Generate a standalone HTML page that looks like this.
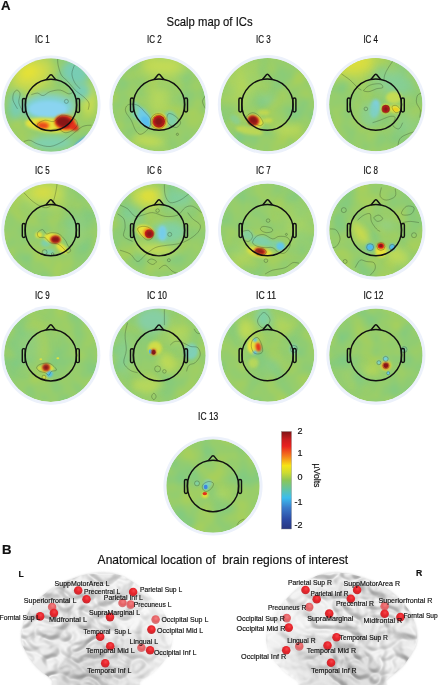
<!DOCTYPE html>
<html><head><meta charset="utf-8"><title>Scalp map of ICs</title>
<style>
html,body{margin:0;padding:0;background:#fff}
body{width:439px;height:685px;overflow:hidden}
svg{display:block}
text{font-family:"Liberation Sans",sans-serif;fill:#111;stroke:#111;stroke-width:0.18px}
</style></head><body>
<svg width="439" height="685" viewBox="0 0 439 685">
<defs>
<clipPath id="clipmap"><circle r="46.7"/></clipPath>
<filter id="b1" x="-50%" y="-50%" width="200%" height="200%"><feGaussianBlur stdDeviation="0.8"/></filter>
<filter id="b2" x="-50%" y="-50%" width="200%" height="200%"><feGaussianBlur stdDeviation="1.8"/></filter>
<filter id="b3" x="-50%" y="-50%" width="200%" height="200%"><feGaussianBlur stdDeviation="3.5"/></filter>
<filter id="b4" x="-60%" y="-60%" width="220%" height="220%"><feGaussianBlur stdDeviation="6"/></filter>
<filter id="b5" x="-80%" y="-80%" width="260%" height="260%"><feGaussianBlur stdDeviation="9"/></filter>
<filter id="mot1" x="-5%" y="-5%" width="110%" height="110%" color-interpolation-filters="sRGB"><feTurbulence type="fractalNoise" baseFrequency="0.045" numOctaves="2" seed="5" result="n"/><feColorMatrix in="n" type="matrix" values="0.22 0 0 0 0.478  0.03 0 0 0 0.789  -0.22 0 0 0 0.533  0 0 0 0 1" result="c"/><feComposite in="c" in2="SourceGraphic" operator="in"/></filter><filter id="mot2" x="-5%" y="-5%" width="110%" height="110%" color-interpolation-filters="sRGB"><feTurbulence type="fractalNoise" baseFrequency="0.045" numOctaves="2" seed="8" result="n"/><feColorMatrix in="n" type="matrix" values="0.22 0 0 0 0.478  0.03 0 0 0 0.789  -0.22 0 0 0 0.533  0 0 0 0 1" result="c"/><feComposite in="c" in2="SourceGraphic" operator="in"/></filter><filter id="mot3" x="-5%" y="-5%" width="110%" height="110%" color-interpolation-filters="sRGB"><feTurbulence type="fractalNoise" baseFrequency="0.045" numOctaves="2" seed="11" result="n"/><feColorMatrix in="n" type="matrix" values="0.22 0 0 0 0.478  0.03 0 0 0 0.789  -0.22 0 0 0 0.533  0 0 0 0 1" result="c"/><feComposite in="c" in2="SourceGraphic" operator="in"/></filter><filter id="mot4" x="-5%" y="-5%" width="110%" height="110%" color-interpolation-filters="sRGB"><feTurbulence type="fractalNoise" baseFrequency="0.045" numOctaves="2" seed="14" result="n"/><feColorMatrix in="n" type="matrix" values="0.22 0 0 0 0.478  0.03 0 0 0 0.789  -0.22 0 0 0 0.533  0 0 0 0 1" result="c"/><feComposite in="c" in2="SourceGraphic" operator="in"/></filter><filter id="mot5" x="-5%" y="-5%" width="110%" height="110%" color-interpolation-filters="sRGB"><feTurbulence type="fractalNoise" baseFrequency="0.045" numOctaves="2" seed="17" result="n"/><feColorMatrix in="n" type="matrix" values="0.22 0 0 0 0.478  0.03 0 0 0 0.789  -0.22 0 0 0 0.533  0 0 0 0 1" result="c"/><feComposite in="c" in2="SourceGraphic" operator="in"/></filter><filter id="mot6" x="-5%" y="-5%" width="110%" height="110%" color-interpolation-filters="sRGB"><feTurbulence type="fractalNoise" baseFrequency="0.045" numOctaves="2" seed="20" result="n"/><feColorMatrix in="n" type="matrix" values="0.22 0 0 0 0.478  0.03 0 0 0 0.789  -0.22 0 0 0 0.533  0 0 0 0 1" result="c"/><feComposite in="c" in2="SourceGraphic" operator="in"/></filter><filter id="mot7" x="-5%" y="-5%" width="110%" height="110%" color-interpolation-filters="sRGB"><feTurbulence type="fractalNoise" baseFrequency="0.045" numOctaves="2" seed="23" result="n"/><feColorMatrix in="n" type="matrix" values="0.22 0 0 0 0.478  0.03 0 0 0 0.789  -0.22 0 0 0 0.533  0 0 0 0 1" result="c"/><feComposite in="c" in2="SourceGraphic" operator="in"/></filter><filter id="mot8" x="-5%" y="-5%" width="110%" height="110%" color-interpolation-filters="sRGB"><feTurbulence type="fractalNoise" baseFrequency="0.045" numOctaves="2" seed="26" result="n"/><feColorMatrix in="n" type="matrix" values="0.22 0 0 0 0.478  0.03 0 0 0 0.789  -0.22 0 0 0 0.533  0 0 0 0 1" result="c"/><feComposite in="c" in2="SourceGraphic" operator="in"/></filter><filter id="mot9" x="-5%" y="-5%" width="110%" height="110%" color-interpolation-filters="sRGB"><feTurbulence type="fractalNoise" baseFrequency="0.045" numOctaves="2" seed="29" result="n"/><feColorMatrix in="n" type="matrix" values="0.22 0 0 0 0.478  0.03 0 0 0 0.789  -0.22 0 0 0 0.533  0 0 0 0 1" result="c"/><feComposite in="c" in2="SourceGraphic" operator="in"/></filter><filter id="mot10" x="-5%" y="-5%" width="110%" height="110%" color-interpolation-filters="sRGB"><feTurbulence type="fractalNoise" baseFrequency="0.045" numOctaves="2" seed="32" result="n"/><feColorMatrix in="n" type="matrix" values="0.22 0 0 0 0.478  0.03 0 0 0 0.789  -0.22 0 0 0 0.533  0 0 0 0 1" result="c"/><feComposite in="c" in2="SourceGraphic" operator="in"/></filter><filter id="mot11" x="-5%" y="-5%" width="110%" height="110%" color-interpolation-filters="sRGB"><feTurbulence type="fractalNoise" baseFrequency="0.045" numOctaves="2" seed="35" result="n"/><feColorMatrix in="n" type="matrix" values="0.22 0 0 0 0.478  0.03 0 0 0 0.789  -0.22 0 0 0 0.533  0 0 0 0 1" result="c"/><feComposite in="c" in2="SourceGraphic" operator="in"/></filter><filter id="mot12" x="-5%" y="-5%" width="110%" height="110%" color-interpolation-filters="sRGB"><feTurbulence type="fractalNoise" baseFrequency="0.045" numOctaves="2" seed="38" result="n"/><feColorMatrix in="n" type="matrix" values="0.22 0 0 0 0.478  0.03 0 0 0 0.789  -0.22 0 0 0 0.533  0 0 0 0 1" result="c"/><feComposite in="c" in2="SourceGraphic" operator="in"/></filter><filter id="mot13" x="-5%" y="-5%" width="110%" height="110%" color-interpolation-filters="sRGB"><feTurbulence type="fractalNoise" baseFrequency="0.045" numOctaves="2" seed="41" result="n"/><feColorMatrix in="n" type="matrix" values="0.22 0 0 0 0.478  0.03 0 0 0 0.789  -0.22 0 0 0 0.533  0 0 0 0 1" result="c"/><feComposite in="c" in2="SourceGraphic" operator="in"/></filter>
<linearGradient id="jet" x1="0" y1="0" x2="0" y2="1">
<stop offset="0" stop-color="#7d1416"/><stop offset="0.08" stop-color="#c81d1f"/><stop offset="0.15" stop-color="#e8211f"/>
<stop offset="0.25" stop-color="#f47a1c"/><stop offset="0.35" stop-color="#f6e415"/><stop offset="0.42" stop-color="#cfdc30"/>
<stop offset="0.5" stop-color="#8cc657"/><stop offset="0.6" stop-color="#5fc3a9"/><stop offset="0.68" stop-color="#3bbdee"/>
<stop offset="0.78" stop-color="#3a7ccb"/><stop offset="0.9" stop-color="#2c4aa4"/><stop offset="1" stop-color="#28357f"/>
</linearGradient>
<radialGradient id="ball" cx="0.56" cy="0.36" r="0.72">
<stop offset="0" stop-color="#f5444a"/><stop offset="0.45" stop-color="#e8242b"/><stop offset="0.8" stop-color="#cc2a30"/><stop offset="1" stop-color="#b25257"/>
</radialGradient>
<radialGradient id="ballp" cx="0.56" cy="0.36" r="0.72">
<stop offset="0" stop-color="#f27e80"/><stop offset="0.5" stop-color="#e46064"/><stop offset="1" stop-color="#cf8486"/>
</radialGradient>
</defs>
<rect width="439" height="685" fill="#fff"/>

<text x="1" y="10.3" font-size="13.2" font-weight="bold">A</text>
<text x="166.6" y="25.5" font-size="13" textLength="86" lengthAdjust="spacingAndGlyphs">Scalp map of ICs</text>
<text x="35" y="43" font-size="10.2" textLength="14.6" lengthAdjust="spacingAndGlyphs">IC 1</text>
<text x="147" y="43" font-size="10.2" textLength="14.6" lengthAdjust="spacingAndGlyphs">IC 2</text>
<text x="256" y="43" font-size="10.2" textLength="14.6" lengthAdjust="spacingAndGlyphs">IC 3</text>
<text x="363.4" y="43" font-size="10.2" textLength="14.6" lengthAdjust="spacingAndGlyphs">IC 4</text>
<text x="35" y="174" font-size="10.2" textLength="14.6" lengthAdjust="spacingAndGlyphs">IC 5</text>
<text x="147" y="174" font-size="10.2" textLength="14.6" lengthAdjust="spacingAndGlyphs">IC 6</text>
<text x="256" y="174" font-size="10.2" textLength="14.6" lengthAdjust="spacingAndGlyphs">IC 7</text>
<text x="363.4" y="174" font-size="10.2" textLength="14.6" lengthAdjust="spacingAndGlyphs">IC 8</text>
<text x="35" y="299" font-size="10.2" textLength="14.6" lengthAdjust="spacingAndGlyphs">IC 9</text>
<text x="147" y="299" font-size="10.2" textLength="20" lengthAdjust="spacingAndGlyphs">IC 10</text>
<text x="256" y="299" font-size="10.2" textLength="20" lengthAdjust="spacingAndGlyphs">IC 11</text>
<text x="363.4" y="299" font-size="10.2" textLength="20" lengthAdjust="spacingAndGlyphs">IC 12</text>
<text x="198.1" y="420" font-size="10.2" textLength="20.2" lengthAdjust="spacingAndGlyphs">IC 13</text>
<g transform="translate(51 105)"><circle r="49.6" fill="#ecf1fb"/><g clip-path="url(#clipmap)"><circle r="46.7" fill="#96cd6c" filter="url(#mot1)"/><ellipse cx="-19" cy="-31" rx="22" ry="16" fill="#d3dc48" transform="rotate(-25 -19 -31)" filter="url(#b4)"/><ellipse cx="-22" cy="-33" rx="9" ry="6" fill="#e6e234" transform="rotate(-25 -22 -33)" filter="url(#b3)"/><ellipse cx="38" cy="-6" rx="8" ry="16" fill="#c6dc52" filter="url(#b3)"/><ellipse cx="24" cy="-32" rx="14" ry="12" fill="#78cdb4" transform="rotate(30 24 -32)" filter="url(#b3)"/><ellipse cx="30" cy="-14" rx="10" ry="9" fill="#78cdb4" filter="url(#b3)"/><ellipse cx="-35" cy="0" rx="7" ry="14" fill="#78cdb4" filter="url(#b3)"/><ellipse cx="-2" cy="2" rx="26" ry="13" fill="#7fd2d8" filter="url(#b3)"/><ellipse cx="-3" cy="4" rx="19" ry="8" fill="#8ad4f0" filter="url(#b2)"/><ellipse cx="0" cy="38" rx="22" ry="7" fill="#7fd0b0" filter="url(#b3)"/><ellipse cx="30" cy="37" rx="9" ry="2.2" fill="#5aa8ea" transform="rotate(-38 30 37)" filter="url(#b1)"/><ellipse cx="-2" cy="20" rx="24" ry="7" fill="#e6e23a" transform="rotate(5 -2 20)" filter="url(#b2)"/><ellipse cx="-8" cy="20" rx="7" ry="4" fill="#f59a1c" transform="rotate(5 -8 20)" filter="url(#b1)"/><ellipse cx="-8" cy="20.5" rx="5" ry="2.6" fill="#ea4a1c" transform="rotate(5 -8 20.5)" filter="url(#b1)"/><ellipse cx="14" cy="17.5" rx="11" ry="8" fill="#f08a1c" transform="rotate(10 14 17.5)" filter="url(#b1)"/><ellipse cx="14" cy="17.5" rx="9.5" ry="6.5" fill="#d8201c" transform="rotate(10 14 17.5)" filter="url(#b1)"/><ellipse cx="12.5" cy="17" rx="7.5" ry="5" fill="#8a1418" transform="rotate(10 12.5 17)" filter="url(#b1)"/><ellipse cx="23" cy="22" rx="5" ry="3.5" fill="#e3301c" transform="rotate(30 23 22)" filter="url(#b1)"/><path d="M6.6 -46.2 C6.7 -45.2 6.5 -42.7 7.1 -39.9 C7.8 -37.2 8.8 -32.6 10.4 -29.9 C12.0 -27.2 14.4 -26.2 16.7 -23.6 C19.0 -21.1 21.5 -17.5 24.2 -14.9 C26.9 -12.2 30.7 -10.0 33.0 -7.9 C35.3 -5.7 37.3 -3.9 38.0 -1.8 C38.7 0.2 37.3 3.6 37.2 4.7" fill="none" stroke="#27331f" stroke-width="0.35" opacity="0.85"/><path d="M23.4 -39.9 C23.0 -38.5 20.9 -34.1 20.9 -31.2 C21.0 -28.2 22.3 -24.9 23.7 -22.4 C25.1 -19.9 28.3 -17.2 29.2 -16.1" fill="none" stroke="#27331f" stroke-width="0.35" opacity="0.85"/><path d="M-23.4 10.2 C-24.2 9.6 -26.5 8.5 -27.9 6.4 C-29.4 4.3 -31.7 0.6 -32.2 -2.3 C-32.7 -5.3 -30.7 -9.0 -30.9 -11.1 C-31.2 -13.2 -32.9 -14.7 -34.0 -14.9 C-35.0 -15.0 -36.5 -13.5 -37.2 -11.9 C-37.9 -10.2 -38.6 -7.5 -38.0 -4.8 C-37.3 -2.2 -34.2 2.5 -33.5 3.9" fill="none" stroke="#27331f" stroke-width="0.35" opacity="0.85"/><path d="M-19.7 -10.4 C-18.6 -10.6 -15.4 -12.0 -13.4 -11.9 C-11.4 -11.7 -10.0 -9.1 -7.9 -9.4 C-5.8 -9.6 -3.7 -12.5 -0.9 -13.4 C2.0 -14.3 6.0 -15.3 9.2 -14.9 C12.3 -14.5 15.8 -11.4 17.9 -11.1 C20.1 -10.9 21.5 -13.0 22.2 -13.4" fill="none" stroke="#27331f" stroke-width="0.35" opacity="0.85"/><path d="M-27.2 36.5 C-26.1 36.3 -23.2 34.8 -20.9 35.3 C-18.6 35.7 -16.7 38.0 -13.4 39.0 C-10.1 40.1 -5.1 41.9 -0.9 41.5 C3.3 41.1 7.9 38.6 11.7 36.5 C15.4 34.4 18.3 31.5 21.7 29.0 C25.0 26.5 28.6 22.9 31.7 21.5 C34.8 20.0 39.0 20.4 40.5 20.2" fill="none" stroke="#27331f" stroke-width="0.35" opacity="0.85"/><circle cx="15.4" cy="-3.6" r="2.0" fill="none" stroke="#27331f" stroke-width="0.35" opacity="0.85"/><path d="M-13.4 19.0 C-12.6 17.5 -8.6 15.6 -5.9 15.2 C-3.2 14.8 0.2 17.3 2.9 16.5 C5.6 15.6 7.3 10.8 10.4 10.2 C13.5 9.6 19.0 11.2 21.7 12.7 C24.4 14.2 26.7 16.9 26.7 19.0 C26.7 21.0 23.8 23.8 21.7 25.2 C19.6 26.7 16.7 27.9 14.2 27.7 C11.7 27.5 9.6 24.4 6.6 24.0 C3.7 23.6 -0.5 25.2 -3.4 25.2 C-6.3 25.2 -9.2 25.0 -10.9 24.0 C-12.6 22.9 -14.2 20.4 -13.4 19.0Z" fill="none" stroke="#27331f" stroke-width="0.35" opacity="0.85"/></g><g fill="none" stroke="#111" stroke-width="1.45" stroke-linejoin="round"><rect x="-28.5" y="-6.6" width="3" height="14" rx="1.4"/><rect x="25.5" y="-6.6" width="3" height="14" rx="1.4"/><path d="M-4.9 -25.1 L-1 -29.9 Q0 -30.8 1 -29.9 L4.9 -25.1"/><circle r="25.7"/></g></g>
<g transform="translate(159 104.6)"><circle r="49.6" fill="#ecf1fb"/><g clip-path="url(#clipmap)"><circle r="46.7" fill="#96cd6c" filter="url(#mot2)"/><ellipse cx="5" cy="-38" rx="22" ry="10" fill="#c6dc52" filter="url(#b4)"/><ellipse cx="0" cy="-5" rx="10" ry="14" fill="#c6dc52" filter="url(#b4)" opacity="0.7"/><ellipse cx="-16" cy="12" rx="6" ry="12" fill="#6ecbe6" transform="rotate(-40 -16 12)" filter="url(#b2)"/><ellipse cx="-13" cy="17" rx="4" ry="6" fill="#58bff0" transform="rotate(-40 -13 17)" filter="url(#b1)"/><ellipse cx="12" cy="14" rx="6" ry="8" fill="#7fd0a8" transform="rotate(-20 12 14)" filter="url(#b2)"/><ellipse cx="-24" cy="5" rx="4" ry="8" fill="#7fd0a8" filter="url(#b2)"/><ellipse cx="0" cy="17" rx="8.5" ry="8.5" fill="#e6e23a" filter="url(#b1)"/><ellipse cx="0" cy="17" rx="7" ry="7" fill="#f08a1c" filter="url(#b1)"/><ellipse cx="0" cy="17" rx="6" ry="6" fill="#d8201c"/><ellipse cx="-0.3" cy="17" rx="4.6" ry="4.6" fill="#8a1418" filter="url(#b1)"/><ellipse cx="-10" cy="36" rx="16" ry="6" fill="#c6dc52" transform="rotate(10 -10 36)" filter="url(#b3)" opacity="0.8"/><path d="M-33.0 2.4 C-32.3 1.0 -31.0 -0.1 -28.9 -0.4 C-26.9 -0.6 -23.2 -0.4 -20.7 1.0 C-18.2 2.4 -15.9 5.6 -13.9 7.8 C-11.8 10.1 -9.1 12.2 -8.4 14.7 C-7.7 17.2 -8.2 20.4 -9.8 22.9 C-11.4 25.4 -15.7 29.3 -18.0 29.7 C-20.3 30.2 -21.9 27.9 -23.5 25.6 C-25.1 23.3 -26.0 19.0 -27.6 16.0 C-29.2 13.1 -32.1 10.1 -33.0 7.8 C-33.9 5.6 -33.7 3.7 -33.0 2.4Z" fill="none" stroke="#27331f" stroke-width="0.35" opacity="0.85"/><circle cx="-0.8" cy="16.6" r="7.7" fill="none" stroke="#27331f" stroke-width="0.35" opacity="0.85"/><circle cx="-0.8" cy="16.6" r="6.0" fill="none" stroke="#27331f" stroke-width="0.35" opacity="0.85"/><path d="M9.3 9.2 C10.5 8.5 12.8 9.2 14.8 10.6 C16.9 11.9 21.2 15.4 21.6 17.4 C22.1 19.5 19.4 22.4 17.5 22.9 C15.7 23.3 12.3 21.5 10.7 20.1 C9.1 18.8 8.2 16.5 8.0 14.7 C7.7 12.9 8.2 9.9 9.3 9.2Z" fill="none" stroke="#27331f" stroke-width="0.35" opacity="0.85"/><path d="M46.2 -8.6 C45.8 -7.6 43.5 -5.1 43.5 -3.1 C43.5 -1.0 45.8 2.6 46.2 3.7" fill="none" stroke="#27331f" stroke-width="0.35" opacity="0.85"/><circle cx="18.4" cy="29.7" r="1.1" fill="none" stroke="#27331f" stroke-width="0.35" opacity="0.85"/></g><g fill="none" stroke="#111" stroke-width="1.45" stroke-linejoin="round"><rect x="-28.5" y="-6.6" width="3" height="14" rx="1.4"/><rect x="25.5" y="-6.6" width="3" height="14" rx="1.4"/><path d="M-4.9 -25.1 L-1 -29.9 Q0 -30.8 1 -29.9 L4.9 -25.1"/><circle r="25.7"/></g></g>
<g transform="translate(267.4 104.6)"><circle r="49.6" fill="#ecf1fb"/><g clip-path="url(#clipmap)"><circle r="46.7" fill="#96cd6c" filter="url(#mot3)"/><ellipse cx="-25" cy="-20" rx="14" ry="20" fill="#c6dc52" filter="url(#b5)" opacity="0.6"/><ellipse cx="-18" cy="26" rx="14" ry="4" fill="#e6e23a" transform="rotate(10 -18 26)" filter="url(#b2)" opacity="0.5"/><ellipse cx="-32" cy="15" rx="6" ry="4" fill="#7fd0a8" transform="rotate(40 -32 15)" filter="url(#b2)" opacity="0.6"/><ellipse cx="-4" cy="8" rx="6" ry="3" fill="#e6e23a" filter="url(#b2)" opacity="0.5"/><ellipse cx="0" cy="16" rx="5" ry="2.5" fill="#e6e23a" filter="url(#b2)" opacity="0.6"/><ellipse cx="20" cy="25" rx="14" ry="5" fill="#c6dc52" filter="url(#b3)" opacity="0.7"/><ellipse cx="-12" cy="16.5" rx="8.5" ry="6" fill="#e6e23a" transform="rotate(25 -12 16.5)" filter="url(#b1)"/><ellipse cx="-14" cy="16" rx="5.8" ry="4.8" fill="#d8201c" transform="rotate(25 -14 16)" filter="url(#b1)"/><ellipse cx="-14.2" cy="15.6" rx="4.6" ry="3.8" fill="#8a1418" transform="rotate(25 -14.2 15.6)" filter="url(#b1)"/><ellipse cx="0" cy="-5" rx="8" ry="6" fill="#7fd0a8" filter="url(#b3)" opacity="0.5"/><path d="M-20.3 11.1 C-19.4 9.8 -16.8 8.1 -14.8 8.1 C-12.8 8.1 -10.3 9.4 -8.5 11.1 C-6.8 12.7 -4.5 16.4 -4.3 18.1 C-4.1 19.8 -6.0 20.9 -7.3 21.1 C-8.6 21.3 -10.6 19.4 -12.3 19.3 C-14.0 19.3 -16.0 21.2 -17.3 20.6 C-18.6 20.0 -19.8 17.2 -20.3 15.6 C-20.8 14.0 -21.2 12.3 -20.3 11.1Z" fill="none" stroke="#27331f" stroke-width="0.35" opacity="0.85"/></g><g fill="none" stroke="#111" stroke-width="1.45" stroke-linejoin="round"><rect x="-28.5" y="-6.6" width="3" height="14" rx="1.4"/><rect x="25.5" y="-6.6" width="3" height="14" rx="1.4"/><path d="M-4.9 -25.1 L-1 -29.9 Q0 -30.8 1 -29.9 L4.9 -25.1"/><circle r="25.7"/></g></g>
<g transform="translate(375.8 104.6)"><circle r="49.6" fill="#ecf1fb"/><g clip-path="url(#clipmap)"><circle r="46.7" fill="#96cd6c" filter="url(#mot4)"/><ellipse cx="-22" cy="-42" rx="24" ry="16" fill="#d2dc44" transform="rotate(-5 -22 -42)" filter="url(#b4)"/><ellipse cx="-22" cy="-44" rx="12" ry="7" fill="#dcde3c" filter="url(#b3)"/><ellipse cx="18" cy="-22" rx="20" ry="13" fill="#7fd0a8" transform="rotate(20 18 -22)" filter="url(#b4)" opacity="0.7"/><ellipse cx="-1" cy="4" rx="5" ry="9.5" fill="#7fd0e4" transform="rotate(10 -1 4)" filter="url(#b2)"/><ellipse cx="-6" cy="10" rx="10" ry="12" fill="#7fd0a8" filter="url(#b3)" opacity="0.6"/><ellipse cx="18" cy="-7" rx="8" ry="6" fill="#c6dc52" filter="url(#b2)"/><ellipse cx="19.5" cy="4.5" rx="6" ry="4" fill="#e6e23a" transform="rotate(10 19.5 4.5)" filter="url(#b1)"/><ellipse cx="20" cy="5" rx="3" ry="2" fill="#f1d21c" transform="rotate(10 20 5)"/><ellipse cx="10" cy="4.3" rx="4.8" ry="4.8" fill="#e6e23a" filter="url(#b1)"/><ellipse cx="10" cy="4.3" rx="3.8" ry="3.8" fill="#d8201c"/><ellipse cx="10" cy="4.3" rx="3" ry="3" fill="#8a1418" filter="url(#b1)"/><ellipse cx="30" cy="20" rx="12" ry="10" fill="#7fd0a8" filter="url(#b4)" opacity="0.5"/><path d="M-34.5 -30.8 C-33.0 -29.7 -28.4 -26.8 -25.7 -24.5 C-23.0 -22.2 -20.1 -18.7 -18.2 -17.0 C-16.3 -15.3 -15.1 -14.9 -14.4 -14.5" fill="none" stroke="#27331f" stroke-width="0.35" opacity="0.85"/><path d="M16.9 -43.3 C16.0 -42.1 13.2 -38.1 11.9 -35.8 C10.5 -33.5 9.5 -31.6 8.9 -29.5 C8.2 -27.4 8.2 -24.3 8.1 -23.3" fill="none" stroke="#27331f" stroke-width="0.35" opacity="0.85"/><path d="M-11.9 -14.5 C-11.1 -15.5 -8.4 -18.5 -5.7 -19.5 C-3.0 -20.6 2.3 -21.2 4.4 -20.8 C6.4 -20.3 7.5 -17.8 6.9 -17.0 C6.2 -16.2 2.7 -16.4 0.6 -15.8 C-1.5 -15.1 -3.8 -13.7 -5.7 -13.2 C-7.6 -12.8 -9.6 -13.0 -10.7 -13.2 C-11.7 -13.5 -12.8 -13.5 -11.9 -14.5Z" fill="none" stroke="#27331f" stroke-width="0.35" opacity="0.85"/><path d="M47.5 -12.0 C46.5 -11.6 43.1 -11.2 41.9 -9.5 C40.8 -7.8 40.3 -4.5 40.7 -2.0 C41.1 0.5 43.9 3.0 44.5 5.6 C45.0 8.1 44.0 11.8 43.9 13.1" fill="none" stroke="#27331f" stroke-width="0.35" opacity="0.85"/><path d="M21.9 44.4 C22.2 42.7 22.2 36.9 23.9 34.4 C25.6 31.9 28.5 30.8 31.9 29.4 C35.3 27.9 42.4 26.2 44.5 25.6" fill="none" stroke="#27331f" stroke-width="0.35" opacity="0.85"/><path d="M-3.2 18.1 C-1.9 17.7 1.4 16.6 4.4 15.6 C7.3 14.5 11.9 12.2 14.4 11.8 C16.9 11.4 19.0 11.6 19.4 13.1 C19.8 14.5 16.3 18.7 16.9 20.6 C17.5 22.5 21.5 24.8 23.1 24.3 C24.8 23.9 26.3 19.1 26.9 18.1" fill="none" stroke="#27331f" stroke-width="0.35" opacity="0.85"/><circle cx="-9.9" cy="4.3" r="1.8" fill="none" stroke="#27331f" stroke-width="0.35" opacity="0.85"/><path d="M16.4 1.8 C16.9 1.0 19.2 0.4 20.6 1.0 C22.1 1.7 24.9 4.4 24.9 5.6 C24.9 6.7 21.9 8.1 20.6 8.1 C19.4 8.1 18.1 6.6 17.4 5.6 C16.7 4.5 15.8 2.5 16.4 1.8Z" fill="none" stroke="#27331f" stroke-width="0.35" opacity="0.85"/><circle cx="9.9" cy="4.5" r="4.0" fill="none" stroke="#27331f" stroke-width="0.35" opacity="0.85"/></g><g fill="none" stroke="#111" stroke-width="1.45" stroke-linejoin="round"><rect x="-28.5" y="-6.6" width="3" height="14" rx="1.4"/><rect x="25.5" y="-6.6" width="3" height="14" rx="1.4"/><path d="M-4.9 -25.1 L-1 -29.9 Q0 -30.8 1 -29.9 L4.9 -25.1"/><circle r="25.7"/></g></g>
<g transform="translate(50.8 230.1)"><circle r="49.6" fill="#ecf1fb"/><g clip-path="url(#clipmap)"><circle r="46.7" fill="#96cd6c" filter="url(#mot5)"/><ellipse cx="-7" cy="-36" rx="22" ry="12" fill="#c6dc52" filter="url(#b4)"/><ellipse cx="-8" cy="-38" rx="9" ry="5" fill="#d6dc44" filter="url(#b3)"/><ellipse cx="-12" cy="5" rx="3.5" ry="3" fill="#e6e23a" filter="url(#b1)"/><ellipse cx="11" cy="18" rx="7" ry="3.4" fill="#e6e23a" transform="rotate(42 11 18)" filter="url(#b1)"/><ellipse cx="-5" cy="13" rx="5" ry="4" fill="#7fd0a8" filter="url(#b2)"/><ellipse cx="-2" cy="22" rx="6" ry="3" fill="#7fd0a8" filter="url(#b2)"/><ellipse cx="2" cy="8" rx="9" ry="5" fill="#e6e23a" transform="rotate(10 2 8)" filter="url(#b1)"/><ellipse cx="4.6" cy="9.4" rx="5" ry="3.8" fill="#d8201c" filter="url(#b1)"/><ellipse cx="4.8" cy="9.5" rx="4" ry="3" fill="#8a1418" filter="url(#b1)"/><ellipse cx="25" cy="0" rx="8" ry="14" fill="#7fd0a8" filter="url(#b4)" opacity="0.5"/><path d="M-27.0 -37.5 C-25.5 -36.1 -21.6 -31.3 -18.2 -28.8 C-14.9 -26.3 -10.1 -23.1 -6.9 -22.5 C-3.8 -21.9 -1.3 -22.9 0.6 -25.0 C2.5 -27.1 3.4 -31.5 4.3 -35.0 C5.3 -38.6 6.0 -44.4 6.3 -46.3" fill="none" stroke="#27331f" stroke-width="0.35" opacity="0.85"/><path d="M-13.2 2.6 C-12.6 1.3 -9.7 -0.7 -8.2 -0.5 C-6.7 -0.2 -5.9 3.3 -4.4 3.8 C-3.0 4.3 -1.5 2.6 0.6 2.6 C2.7 2.6 5.8 2.6 8.1 3.8 C10.4 5.1 12.9 8.2 14.4 10.1 C15.8 12.0 16.0 13.4 16.9 15.1 C17.8 16.8 19.9 18.8 19.9 20.1 C19.9 21.4 18.2 23.0 16.9 22.6 C15.5 22.2 13.5 19.1 11.9 17.6 C10.2 16.1 8.9 14.7 6.8 13.8 C4.8 13.0 1.4 13.6 -0.7 12.6 C-2.8 11.5 -3.8 8.5 -5.7 7.6 C-7.6 6.7 -10.7 7.9 -12.0 7.1 C-13.2 6.2 -13.8 3.8 -13.2 2.6Z" fill="none" stroke="#27331f" stroke-width="0.35" opacity="0.85"/><circle cx="-6.2" cy="22.1" r="2.5" fill="none" stroke="#27331f" stroke-width="0.35" opacity="0.85"/><circle cx="1.8" cy="23.9" r="1.3" fill="none" stroke="#27331f" stroke-width="0.35" opacity="0.85"/></g><g fill="none" stroke="#111" stroke-width="1.45" stroke-linejoin="round"><rect x="-28.5" y="-6.6" width="3" height="14" rx="1.4"/><rect x="25.5" y="-6.6" width="3" height="14" rx="1.4"/><path d="M-4.9 -25.1 L-1 -29.9 Q0 -30.8 1 -29.9 L4.9 -25.1"/><circle r="25.7"/></g></g>
<g transform="translate(159 230.2)"><circle r="49.6" fill="#ecf1fb"/><g clip-path="url(#clipmap)"><circle r="46.7" fill="#96cd6c" filter="url(#mot6)"/><ellipse cx="-10" cy="-33" rx="16" ry="11" fill="#ccdc4c" filter="url(#b3)"/><ellipse cx="-10" cy="-34" rx="7" ry="5" fill="#dade3e" filter="url(#b2)"/><ellipse cx="20" cy="-32" rx="16" ry="10" fill="#7fd0a8" filter="url(#b4)" opacity="0.8"/><ellipse cx="-28" cy="-15" rx="10" ry="10" fill="#7fd0a8" filter="url(#b4)" opacity="0.6"/><ellipse cx="10" cy="2" rx="17" ry="11" fill="#7fd0a8" filter="url(#b3)" opacity="0.9"/><ellipse cx="3.3" cy="3" rx="4.5" ry="8" fill="#7fd0e4" filter="url(#b2)"/><ellipse cx="3.3" cy="3" rx="2.6" ry="5.5" fill="#74cdea" filter="url(#b1)"/><ellipse cx="-2" cy="19" rx="20" ry="5" fill="#c6dc52" transform="rotate(5 -2 19)" filter="url(#b3)"/><ellipse cx="-14" cy="1" rx="9" ry="6" fill="#e6e23a" transform="rotate(20 -14 1)" filter="url(#b1)"/><ellipse cx="-10.5" cy="3" rx="5.5" ry="5" fill="#f08a1c" transform="rotate(20 -10.5 3)" filter="url(#b1)"/><ellipse cx="-9.8" cy="3.6" rx="4.4" ry="4.2" fill="#d8201c"/><ellipse cx="-9.6" cy="3.8" rx="3.4" ry="3.4" fill="#8a1418" filter="url(#b1)"/><path d="M-39.0 -25.1 C-37.7 -24.5 -33.9 -23.2 -31.4 -21.4 C-28.9 -19.5 -26.4 -14.9 -23.9 -13.8 C-21.4 -12.8 -19.3 -14.5 -16.4 -15.1 C-13.5 -15.7 -10.1 -17.8 -6.4 -17.6 C-2.6 -17.4 2.0 -14.3 6.2 -13.8 C10.3 -13.4 15.3 -13.6 18.7 -15.1 C22.0 -16.6 23.7 -21.2 26.2 -22.6 C28.7 -24.1 31.0 -24.7 33.7 -23.9 C36.4 -23.0 41.0 -18.7 42.5 -17.6" fill="none" stroke="#27331f" stroke-width="0.35" opacity="0.85"/><path d="M5.4 -45.7 C5.5 -43.9 5.2 -38.2 6.2 -35.1 C7.1 -32.1 8.7 -28.5 11.2 -27.6 C13.7 -26.8 18.1 -28.7 21.2 -30.1 C24.3 -31.6 28.5 -35.4 30.0 -36.4" fill="none" stroke="#27331f" stroke-width="0.35" opacity="0.85"/><circle cx="-1.4" cy="-19.6" r="1.8" fill="none" stroke="#27331f" stroke-width="0.35" opacity="0.85"/><path d="M-41.5 -16.4 C-40.4 -15.5 -36.5 -13.6 -35.2 -11.3 C-33.9 -9.0 -33.9 -5.5 -33.9 -2.6 C-33.9 0.4 -36.5 3.9 -35.2 6.2 C-33.9 8.5 -27.9 10.4 -26.4 11.2" fill="none" stroke="#27331f" stroke-width="0.35" opacity="0.85"/><path d="M-39.0 20.0 C-37.3 20.6 -31.9 21.9 -28.9 23.7 C-26.0 25.6 -23.9 31.1 -21.4 31.3 C-18.9 31.5 -16.8 27.3 -13.9 25.0 C-11.0 22.7 -7.6 19.2 -3.9 17.5 C-0.1 15.8 4.9 15.6 8.7 15.0 C12.4 14.3 15.3 14.6 18.7 13.7 C22.0 12.9 25.4 11.8 28.7 10.0 C32.0 8.1 36.6 5.0 38.7 2.4 C40.8 -0.1 42.1 -2.8 41.2 -5.1 C40.4 -7.4 35.8 -9.3 33.7 -11.3 C31.6 -13.4 29.5 -16.6 28.7 -17.6" fill="none" stroke="#27331f" stroke-width="0.35" opacity="0.85"/><path d="M-11.4 31.3 C-11.6 30.3 -9.1 28.8 -7.6 28.8 C-6.2 28.8 -2.8 30.3 -2.6 31.3 C-2.4 32.2 -4.9 34.3 -6.4 34.3 C-7.8 34.3 -11.2 32.2 -11.4 31.3Z" fill="none" stroke="#27331f" stroke-width="0.35" opacity="0.85"/><circle cx="9.9" cy="30.0" r="1.5" fill="none" stroke="#27331f" stroke-width="0.35" opacity="0.85"/><path d="M-0.1 38.8 C0.9 38.2 3.9 34.6 6.2 35.0 C8.4 35.4 11.2 39.8 13.7 41.3 C16.2 42.8 19.9 43.4 21.2 43.8" fill="none" stroke="#27331f" stroke-width="0.35" opacity="0.85"/><circle cx="10.7" cy="4.2" r="2.0" fill="none" stroke="#27331f" stroke-width="0.35" opacity="0.85"/><path d="M-21.4 -1.3 C-21.2 -2.8 -18.3 -3.6 -16.4 -3.8 C-14.5 -4.0 -12.0 -3.6 -10.1 -2.6 C-8.3 -1.5 -5.5 0.6 -5.1 2.4 C-4.7 4.3 -6.4 7.5 -7.6 8.7 C-8.9 9.9 -11.0 10.1 -12.6 9.5 C-14.3 8.8 -16.2 6.7 -17.7 5.0 C-19.1 3.2 -21.6 0.1 -21.4 -1.3Z" fill="none" stroke="#27331f" stroke-width="0.35" opacity="0.85"/></g><g fill="none" stroke="#111" stroke-width="1.45" stroke-linejoin="round"><rect x="-28.5" y="-6.6" width="3" height="14" rx="1.4"/><rect x="25.5" y="-6.6" width="3" height="14" rx="1.4"/><path d="M-4.9 -25.1 L-1 -29.9 Q0 -30.8 1 -29.9 L4.9 -25.1"/><circle r="25.7"/></g></g>
<g transform="translate(267.6 230.1)"><circle r="49.6" fill="#ecf1fb"/><g clip-path="url(#clipmap)"><circle r="46.7" fill="#96cd6c" filter="url(#mot7)"/><ellipse cx="-7" cy="11" rx="11" ry="5" fill="#7fd0a8" transform="rotate(10 -7 11)" filter="url(#b2)"/><ellipse cx="-20" cy="5" rx="6" ry="5" fill="#7fd0a8" filter="url(#b2)" opacity="0.8"/><ellipse cx="8" cy="14" rx="8" ry="4" fill="#7fd0a8" filter="url(#b2)" opacity="0.8"/><ellipse cx="13" cy="16.5" rx="4.2" ry="4" fill="#5fc6ee" filter="url(#b1)"/><ellipse cx="-8" cy="22" rx="13" ry="5" fill="#e6e23a" transform="rotate(10 -8 22)" filter="url(#b2)"/><ellipse cx="-7.5" cy="21.3" rx="6" ry="3.4" fill="#e3301c" transform="rotate(10 -7.5 21.3)" filter="url(#b1)"/><ellipse cx="-7.8" cy="21.3" rx="4.4" ry="2.2" fill="#8a1418" transform="rotate(10 -7.8 21.3)" filter="url(#b1)"/><ellipse cx="-25" cy="25" rx="10" ry="8" fill="#c6dc52" filter="url(#b4)" opacity="0.6"/><ellipse cx="30" cy="-5" rx="10" ry="20" fill="#c6dc52" filter="url(#b5)" opacity="0.5"/><circle cx="0.5" cy="-9.5" r="1.8" fill="none" stroke="#27331f" stroke-width="0.35" opacity="0.85"/><path d="M-7.0 -2.0 C-6.6 -2.7 -5.5 -3.7 -3.7 -3.7 C-1.9 -3.7 2.4 -2.8 3.8 -2.0 C5.2 -1.1 5.4 0.5 4.5 1.3 C3.7 2.0 0.6 2.7 -1.2 2.5 C-3.0 2.4 -5.3 1.3 -6.2 0.5 C-7.2 -0.2 -7.4 -1.3 -7.0 -2.0Z" fill="none" stroke="#27331f" stroke-width="0.35" opacity="0.85"/><path d="M-15.0 12.6 C-15.2 10.9 -13.1 7.6 -11.2 6.3 C-9.4 5.0 -6.4 4.1 -3.7 4.5 C-1.0 5.0 2.5 8.5 5.0 8.8 C7.6 9.1 8.8 6.5 11.3 6.3 C13.8 6.1 18.2 6.1 20.1 7.6 C22.0 9.0 23.0 12.6 22.6 15.1 C22.2 17.6 19.5 21.3 17.6 22.6 C15.7 23.8 13.4 23.4 11.3 22.6 C9.2 21.8 7.3 18.4 5.0 17.6 C2.7 16.7 0.0 17.8 -2.5 17.6 C-5.0 17.4 -7.9 17.2 -10.0 16.3 C-12.1 15.5 -14.8 14.2 -15.0 12.6Z" fill="none" stroke="#27331f" stroke-width="0.35" opacity="0.85"/><path d="M-25.5 1.3 C-24.4 1.2 -20.5 -0.3 -18.8 0.5 C-17.0 1.4 -15.0 4.5 -15.0 6.3 C-15.0 8.1 -17.2 10.8 -18.8 11.3 C-20.4 11.9 -23.6 9.9 -24.5 9.6" fill="none" stroke="#27331f" stroke-width="0.35" opacity="0.85"/><circle cx="18.8" cy="4.3" r="1.0" fill="none" stroke="#27331f" stroke-width="0.35" opacity="0.85"/><circle cx="-1.7" cy="30.6" r="1.8" fill="none" stroke="#27331f" stroke-width="0.35" opacity="0.85"/><path d="M-2.5 43.9 C-1.2 43.3 1.7 41.2 5.0 40.1 C8.4 39.1 14.2 38.9 17.6 37.6 C20.9 36.4 22.8 33.4 25.1 32.6 C27.4 31.9 30.3 33.0 31.4 33.1" fill="none" stroke="#27331f" stroke-width="0.35" opacity="0.85"/><path d="M-12.5 21.8 C-12.5 20.9 -11.5 19.5 -10.0 19.1 C-8.5 18.6 -5.2 18.6 -3.7 19.1 C-2.3 19.6 -1.1 21.1 -1.2 22.1 C-1.3 23.1 -3.0 24.7 -4.5 25.1 C-5.9 25.5 -8.7 25.1 -10.0 24.6 C-11.3 24.1 -12.5 22.8 -12.5 21.8Z" fill="none" stroke="#27331f" stroke-width="0.35" opacity="0.85"/></g><g fill="none" stroke="#111" stroke-width="1.45" stroke-linejoin="round"><rect x="-28.5" y="-6.6" width="3" height="14" rx="1.4"/><rect x="25.5" y="-6.6" width="3" height="14" rx="1.4"/><path d="M-4.9 -25.1 L-1 -29.9 Q0 -30.8 1 -29.9 L4.9 -25.1"/><circle r="25.7"/></g></g>
<g transform="translate(375.9 230.1)"><circle r="49.6" fill="#ecf1fb"/><g clip-path="url(#clipmap)"><circle r="46.7" fill="#96cd6c" filter="url(#mot8)"/><ellipse cx="-15" cy="3" rx="5" ry="14" fill="#e6e23a" transform="rotate(-35 -15 3)" filter="url(#b3)" opacity="0.7"/><ellipse cx="22" cy="26" rx="12" ry="8" fill="#c6dc52" transform="rotate(20 22 26)" filter="url(#b3)" opacity="0.8"/><ellipse cx="5" cy="21" rx="5.5" ry="6.5" fill="#e6e23a" filter="url(#b1)"/><ellipse cx="5" cy="16" rx="4" ry="3.4" fill="#f08a1c" filter="url(#b1)"/><ellipse cx="5" cy="15.8" rx="3" ry="2.6" fill="#d8201c"/><ellipse cx="5" cy="15.6" rx="1.8" ry="1.6" fill="#8a1418"/><ellipse cx="-5.8" cy="17" rx="4.2" ry="3.6" fill="#4fbaf0" filter="url(#b1)"/><ellipse cx="16.3" cy="17" rx="3" ry="3.4" fill="#4fbaf0" filter="url(#b1)"/><ellipse cx="10" cy="-5" rx="8" ry="6" fill="#7fd0a8" filter="url(#b3)" opacity="0.5"/><path d="M5.5 -42.6 C5.3 -41.1 3.4 -35.9 4.3 -33.8 C5.1 -31.7 8.0 -30.0 10.5 -30.0 C13.0 -30.0 17.8 -31.9 19.3 -33.8 C20.7 -35.7 19.3 -40.1 19.3 -41.3" fill="none" stroke="#27331f" stroke-width="0.35" opacity="0.85"/><circle cx="-32.1" cy="-20.0" r="2.5" fill="none" stroke="#27331f" stroke-width="0.35" opacity="0.85"/><path d="M-18.3 -10.0 C-17.3 -10.8 -14.1 -14.0 -12.0 -15.0 C-10.0 -16.0 -7.0 -17.3 -5.8 -16.3 C-4.5 -15.2 -5.6 -11.2 -4.5 -8.7 C-3.5 -6.2 -1.0 -2.9 0.5 -1.2 C2.0 0.5 3.6 0.9 4.3 1.3" fill="none" stroke="#27331f" stroke-width="0.35" opacity="0.85"/><path d="M-2.0 -12.5 C-1.8 -13.5 1.5 -15.2 3.0 -15.0 C4.5 -14.8 7.0 -12.3 6.8 -11.2 C6.5 -10.2 3.2 -8.5 1.7 -8.7 C0.3 -8.9 -2.2 -11.4 -2.0 -12.5Z" fill="none" stroke="#27331f" stroke-width="0.35" opacity="0.85"/><path d="M-45.9 -1.2 C-44.8 -1.0 -41.3 -1.6 -39.6 0.0 C-37.9 1.7 -35.8 6.1 -35.8 8.8 C-35.8 11.5 -38.1 14.9 -39.6 16.3 C-41.1 17.8 -43.8 17.4 -44.6 17.6" fill="none" stroke="#27331f" stroke-width="0.35" opacity="0.85"/><path d="M25.6 -17.5 C26.0 -19.0 28.5 -22.9 30.6 -23.8 C32.7 -24.6 37.2 -23.8 38.1 -22.5 C38.9 -21.3 37.2 -17.5 35.6 -16.3 C33.9 -15.0 29.7 -14.8 28.1 -15.0 C26.4 -15.2 25.1 -16.0 25.6 -17.5Z" fill="none" stroke="#27331f" stroke-width="0.35" opacity="0.85"/><path d="M26.8 -7.5 C28.1 -7.7 31.6 -8.7 34.3 -8.7 C37.0 -8.7 41.6 -7.7 43.1 -7.5" fill="none" stroke="#27331f" stroke-width="0.35" opacity="0.85"/><circle cx="38.1" cy="5.1" r="2.5" fill="none" stroke="#27331f" stroke-width="0.35" opacity="0.85"/><path d="M-20.8 37.6 C-20.0 36.4 -17.7 31.2 -15.8 30.1 C-13.9 29.1 -11.8 30.9 -9.5 31.4 C-7.2 31.8 -3.5 31.4 -2.0 32.6 C-0.6 33.9 -0.1 36.8 -0.8 38.9 C-1.4 41.0 -4.9 44.1 -5.8 45.2" fill="none" stroke="#27331f" stroke-width="0.35" opacity="0.85"/><circle cx="-30.8" cy="31.4" r="2.0" fill="none" stroke="#27331f" stroke-width="0.35" opacity="0.85"/><circle cx="-5.8" cy="17.1" r="3.5" fill="none" stroke="#27331f" stroke-width="0.35" opacity="0.85"/><circle cx="16.3" cy="17.1" r="2.8" fill="none" stroke="#27331f" stroke-width="0.35" opacity="0.85"/><circle cx="5.0" cy="16.3" r="4.0" fill="none" stroke="#27331f" stroke-width="0.35" opacity="0.85"/></g><g fill="none" stroke="#111" stroke-width="1.45" stroke-linejoin="round"><rect x="-28.5" y="-6.6" width="3" height="14" rx="1.4"/><rect x="25.5" y="-6.6" width="3" height="14" rx="1.4"/><path d="M-4.9 -25.1 L-1 -29.9 Q0 -30.8 1 -29.9 L4.9 -25.1"/><circle r="25.7"/></g></g>
<g transform="translate(50.8 355.2)"><circle r="49.6" fill="#ecf1fb"/><g clip-path="url(#clipmap)"><circle r="46.7" fill="#96cd6c" filter="url(#mot9)"/><ellipse cx="-3.5" cy="13.5" rx="6.5" ry="4.2" fill="#e6e23a" filter="url(#b1)"/><ellipse cx="-6" cy="22" rx="2.6" ry="1.8" fill="#e6e23a" filter="url(#b1)"/><ellipse cx="-11" cy="13" rx="2.4" ry="1.6" fill="#e6e23a" filter="url(#b1)"/><ellipse cx="7" cy="3" rx="1.4" ry="1" fill="#e6e23a"/><ellipse cx="-10" cy="4" rx="1.4" ry="1" fill="#e6e23a"/><ellipse cx="-1.2" cy="18.6" rx="3" ry="3.4" fill="#52bdf2" transform="rotate(20 -1.2 18.6)" filter="url(#b1)"/><ellipse cx="-4.6" cy="12.2" rx="3.8" ry="3.6" fill="#e8501c" filter="url(#b1)"/><ellipse cx="-4.8" cy="12.2" rx="2.9" ry="2.8" fill="#8a1418" filter="url(#b1)"/><ellipse cx="-20" cy="-10" rx="12" ry="18" fill="#7fd0a8" filter="url(#b5)" opacity="0.4"/><path d="M-13.7 11.2 C-13.0 10.4 -11.4 9.3 -9.4 8.7 C-7.5 8.2 -4.0 7.6 -1.9 8.0 C0.2 8.4 1.8 10.1 3.1 11.2 C4.3 12.4 6.0 14.2 5.6 15.0 C5.2 15.8 1.8 15.4 0.6 16.3 C-0.7 17.1 -0.9 19.8 -1.9 20.0 C-3.0 20.2 -4.2 18.1 -5.7 17.5 C-7.1 16.9 -9.4 16.9 -10.7 16.3 C-12.0 15.6 -13.2 14.6 -13.7 13.7 C-14.2 12.9 -14.4 12.1 -13.7 11.2Z" fill="none" stroke="#27331f" stroke-width="0.35" opacity="0.85"/><circle cx="-6.9" cy="22.0" r="2.0" fill="none" stroke="#27331f" stroke-width="0.35" opacity="0.85"/></g><g fill="none" stroke="#111" stroke-width="1.45" stroke-linejoin="round"><rect x="-28.5" y="-6.6" width="3" height="14" rx="1.4"/><rect x="25.5" y="-6.6" width="3" height="14" rx="1.4"/><path d="M-4.9 -25.1 L-1 -29.9 Q0 -30.8 1 -29.9 L4.9 -25.1"/><circle r="25.7"/></g></g>
<g transform="translate(159 355.3)"><circle r="49.6" fill="#ecf1fb"/><g clip-path="url(#clipmap)"><circle r="46.7" fill="#96cd6c" filter="url(#mot10)"/><ellipse cx="-6" cy="-35" rx="16" ry="12" fill="#86cfa4" filter="url(#b3)"/><ellipse cx="32" cy="-4" rx="7" ry="8" fill="#7fd0b8" filter="url(#b2)"/><ellipse cx="-35" cy="0" rx="8" ry="20" fill="#7fd0a8" filter="url(#b4)" opacity="0.6"/><ellipse cx="-4" cy="-7" rx="7" ry="7" fill="#e6e23a" filter="url(#b2)" opacity="0.75"/><ellipse cx="8" cy="8" rx="8" ry="10" fill="#c6dc52" transform="rotate(-30 8 8)" filter="url(#b3)" opacity="0.8"/><ellipse cx="-12" cy="30" rx="14" ry="8" fill="#c6dc52" filter="url(#b3)" opacity="0.7"/><ellipse cx="20" cy="-20" rx="10" ry="10" fill="#c6dc52" filter="url(#b4)" opacity="0.7"/><ellipse cx="-8.6" cy="-3.8" rx="1.6" ry="2.2" fill="#52bdf2"/><ellipse cx="-5.4" cy="-3.2" rx="2.4" ry="3" fill="#e3301c" filter="url(#b1)"/><ellipse cx="-5.4" cy="-3.1" rx="1.7" ry="2.2" fill="#8a1418"/><path d="M5.4 -45.8 C5.4 -43.2 5.4 -32.8 5.4 -30.2" fill="none" stroke="#27331f" stroke-width="0.35" opacity="0.85"/><path d="M-31.4 -32.7 C-31.9 -30.7 -33.7 -24.8 -33.9 -20.2 C-34.2 -15.6 -32.5 -9.8 -32.7 -5.2 C-32.9 -0.6 -35.8 4.0 -35.2 7.4 C-34.6 10.7 -31.2 13.2 -28.9 14.9 C-26.6 16.5 -22.7 17.0 -21.4 17.4" fill="none" stroke="#27331f" stroke-width="0.35" opacity="0.85"/><path d="M11.2 -10.2 C12.0 -10.8 14.1 -13.5 16.2 -13.9 C18.3 -14.4 21.2 -13.5 23.7 -12.7 C26.2 -11.9 28.7 -9.8 31.2 -8.9 C33.7 -8.1 37.1 -9.1 38.7 -7.7 C40.4 -6.2 41.7 -2.7 41.2 -0.2 C40.8 2.3 38.1 5.7 36.2 7.4 C34.3 9.0 31.4 8.4 30.0 9.9 C28.5 11.3 27.9 15.1 27.5 16.1" fill="none" stroke="#27331f" stroke-width="0.35" opacity="0.85"/><circle cx="-1.4" cy="13.6" r="3.0" fill="none" stroke="#27331f" stroke-width="0.35" opacity="0.85"/><circle cx="5.4" cy="16.1" r="1.8" fill="none" stroke="#27331f" stroke-width="0.35" opacity="0.85"/><path d="M-7.4 41.2 C-7.4 40.1 -5.9 37.9 -5.1 37.9 C-4.4 37.9 -2.9 40.1 -2.9 41.2 C-2.9 42.3 -4.4 44.4 -5.1 44.4 C-5.9 44.4 -7.4 42.3 -7.4 41.2Z" fill="none" stroke="#27331f" stroke-width="0.35" opacity="0.85"/><path d="M35.0 -26.5 C35.4 -25.9 36.4 -23.6 37.5 -22.7 C38.5 -21.9 40.6 -21.7 41.2 -21.5" fill="none" stroke="#27331f" stroke-width="0.35" opacity="0.85"/><circle cx="-5.6" cy="-3.2" r="2.3" fill="none" stroke="#27331f" stroke-width="0.35" opacity="0.85"/></g><g fill="none" stroke="#111" stroke-width="1.45" stroke-linejoin="round"><rect x="-28.5" y="-6.6" width="3" height="14" rx="1.4"/><rect x="25.5" y="-6.6" width="3" height="14" rx="1.4"/><path d="M-4.9 -25.1 L-1 -29.9 Q0 -30.8 1 -29.9 L4.9 -25.1"/><circle r="25.7"/></g></g>
<g transform="translate(267.6 355.1)"><circle r="49.6" fill="#ecf1fb"/><g clip-path="url(#clipmap)"><circle r="46.7" fill="#96cd6c" filter="url(#mot11)"/><ellipse cx="-4" cy="-37" rx="8" ry="10" fill="#7fd0a8" filter="url(#b3)"/><ellipse cx="26" cy="-6" rx="4" ry="5" fill="#7fd0a8" filter="url(#b2)"/><ellipse cx="-22" cy="-25" rx="8" ry="10" fill="#c6dc52" filter="url(#b3)" opacity="0.8"/><ellipse cx="15" cy="-30" rx="10" ry="8" fill="#c6dc52" filter="url(#b4)" opacity="0.6"/><ellipse cx="-14" cy="-9" rx="6.5" ry="8" fill="#e6e23a" filter="url(#b1)"/><ellipse cx="-14" cy="8" rx="5" ry="5" fill="#c6dc52" filter="url(#b2)" opacity="0.7"/><ellipse cx="-12.5" cy="-15" rx="2.2" ry="2" fill="#52bdf2" filter="url(#b1)"/><ellipse cx="-12.5" cy="-2.5" rx="2.4" ry="2" fill="#52bdf2" filter="url(#b1)"/><ellipse cx="-9.3" cy="-8" rx="2.6" ry="4.2" fill="#e3301c" transform="rotate(-10 -9.3 -8)" filter="url(#b1)"/><ellipse cx="5" cy="10" rx="10" ry="8" fill="#7fd0a8" filter="url(#b4)" opacity="0.4"/><path d="M-10.0 -35.0 C-9.4 -37.3 -5.8 -42.6 -3.7 -42.6 C-1.6 -42.6 2.3 -37.6 2.5 -35.0 C2.7 -32.5 -0.8 -28.6 -2.5 -27.5 C-4.1 -26.5 -6.2 -27.5 -7.5 -28.8 C-8.7 -30.0 -10.6 -32.8 -10.0 -35.0Z" fill="none" stroke="#27331f" stroke-width="0.35" opacity="0.85"/><circle cx="26.3" cy="-6.2" r="3.5" fill="none" stroke="#27331f" stroke-width="0.35" opacity="0.85"/><path d="M-15.0 -15.0 C-14.0 -16.5 -11.5 -18.1 -10.0 -17.5 C-8.5 -16.9 -7.1 -13.5 -6.2 -11.2 C-5.4 -8.9 -4.6 -5.4 -5.0 -3.7 C-5.4 -2.1 -7.3 -1.4 -8.7 -1.2 C-10.2 -1.0 -12.5 -1.2 -13.8 -2.5 C-15.0 -3.7 -16.1 -6.6 -16.3 -8.7 C-16.5 -10.8 -16.1 -13.5 -15.0 -15.0Z" fill="none" stroke="#27331f" stroke-width="0.35" opacity="0.85"/></g><g fill="none" stroke="#111" stroke-width="1.45" stroke-linejoin="round"><rect x="-28.5" y="-6.6" width="3" height="14" rx="1.4"/><rect x="25.5" y="-6.6" width="3" height="14" rx="1.4"/><path d="M-4.9 -25.1 L-1 -29.9 Q0 -30.8 1 -29.9 L4.9 -25.1"/><circle r="25.7"/></g></g>
<g transform="translate(375.9 355.1)"><circle r="49.6" fill="#ecf1fb"/><g clip-path="url(#clipmap)"><circle r="46.7" fill="#96cd6c" filter="url(#mot12)"/><ellipse cx="10" cy="10.5" rx="5" ry="5" fill="#e6e23a" filter="url(#b1)"/><ellipse cx="10" cy="10.5" rx="3.4" ry="3.4" fill="#e3301c" filter="url(#b1)"/><ellipse cx="10" cy="10.5" rx="2.3" ry="2.3" fill="#8a1418"/><ellipse cx="9.8" cy="3.8" rx="2.8" ry="2.4" fill="#6fd0e8" filter="url(#b1)"/><ellipse cx="3" cy="7.5" rx="2.2" ry="2" fill="#6fd0e8" filter="url(#b1)"/><ellipse cx="12.3" cy="18" rx="1.6" ry="1.8" fill="#6fd0e8"/><ellipse cx="28" cy="-5.5" rx="3.2" ry="3" fill="#7fd0a8" filter="url(#b1)"/><ellipse cx="-5" cy="15" rx="8" ry="5" fill="#c6dc52" filter="url(#b3)" opacity="0.6"/><ellipse cx="-25" cy="20" rx="12" ry="8" fill="#7fd0a8" filter="url(#b5)" opacity="0.4"/><circle cx="28.1" cy="-5.5" r="3.0" fill="none" stroke="#27331f" stroke-width="0.35" opacity="0.85"/><circle cx="9.8" cy="3.8" r="2.5" fill="none" stroke="#27331f" stroke-width="0.35" opacity="0.85"/><circle cx="3.0" cy="7.6" r="2.0" fill="none" stroke="#27331f" stroke-width="0.35" opacity="0.85"/><circle cx="12.3" cy="18.1" r="1.5" fill="none" stroke="#27331f" stroke-width="0.35" opacity="0.85"/><circle cx="10.0" cy="10.6" r="3.0" fill="none" stroke="#27331f" stroke-width="0.35" opacity="0.85"/></g><g fill="none" stroke="#111" stroke-width="1.45" stroke-linejoin="round"><rect x="-28.5" y="-6.6" width="3" height="14" rx="1.4"/><rect x="25.5" y="-6.6" width="3" height="14" rx="1.4"/><path d="M-4.9 -25.1 L-1 -29.9 Q0 -30.8 1 -29.9 L4.9 -25.1"/><circle r="25.7"/></g></g>
<g transform="translate(213 486)"><circle r="49.6" fill="#ecf1fb"/><g clip-path="url(#clipmap)"><circle r="46.7" fill="#96cd6c" filter="url(#mot13)"/><ellipse cx="-5" cy="-3" rx="4" ry="3.5" fill="#86cfb0" filter="url(#b1)"/><ellipse cx="-7.3" cy="0.8" rx="3" ry="3.2" fill="#6fcfd2" filter="url(#b1)"/><ellipse cx="-7.3" cy="1" rx="1.9" ry="2.2" fill="#3f86e0"/><ellipse cx="-8" cy="9" rx="3.2" ry="3" fill="#e6e23a" filter="url(#b1)"/><ellipse cx="-8.2" cy="7.6" rx="2.3" ry="1.6" fill="#e3301c"/><ellipse cx="-16" cy="-2.6" rx="2.4" ry="2.4" fill="#7fd0a8" filter="url(#b1)"/><ellipse cx="8" cy="8" rx="8" ry="6" fill="#c6dc52" filter="url(#b3)" opacity="0.5"/><circle cx="-16.0" cy="-2.6" r="2.5" fill="none" stroke="#27331f" stroke-width="0.35" opacity="0.85"/><path d="M-9.7 -1.8 C-8.6 -2.9 -5.9 -4.4 -4.2 -4.5 C-2.5 -4.6 -0.0 -3.7 0.4 -2.6 C0.9 -1.4 -0.3 1.0 -1.5 2.3 C-2.7 3.7 -5.5 5.6 -7.0 5.6 C-8.5 5.6 -10.1 3.6 -10.5 2.3 C-11.0 1.1 -10.7 -0.6 -9.7 -1.8Z" fill="none" stroke="#27331f" stroke-width="0.35" opacity="0.85"/><path d="M23.9 39.2 C24.4 38.6 25.4 36.2 26.7 35.1 C27.9 34.1 30.5 33.3 31.3 33.0" fill="none" stroke="#27331f" stroke-width="0.35" opacity="0.85"/></g><g fill="none" stroke="#111" stroke-width="1.45" stroke-linejoin="round"><rect x="-28.5" y="-6.6" width="3" height="14" rx="1.4"/><rect x="25.5" y="-6.6" width="3" height="14" rx="1.4"/><path d="M-4.9 -25.1 L-1 -29.9 Q0 -30.8 1 -29.9 L4.9 -25.1"/><circle r="25.7"/></g></g>
<rect x="281.5" y="431.5" width="10" height="97.5" fill="url(#jet)" stroke="#888" stroke-width="0.4"/>
<text x="302.6" y="434.3" font-size="9" text-anchor="end">2</text>
<text x="302.6" y="455.8" font-size="9" text-anchor="end">1</text>
<text x="302.6" y="479.5" font-size="9" text-anchor="end">0</text>
<text x="302.6" y="504.8" font-size="9" text-anchor="end">-1</text>
<text x="302.6" y="527.5999999999999" font-size="9" text-anchor="end">-2</text>
<text transform="translate(314 463.5) rotate(90)" font-size="9.5" textLength="24" lengthAdjust="spacingAndGlyphs">µVolts</text>
<text x="2" y="554.3" font-size="13.2" font-weight="bold">B</text>
<text x="97.6" y="564" font-size="13" textLength="250.6" lengthAdjust="spacingAndGlyphs">Anatomical location of&#160; brain regions of interest</text>
<text x="18.5" y="576.6" font-size="8.6" font-weight="bold">L</text>
<text x="416" y="576.2" font-size="8.6" font-weight="bold">R</text>
<defs><filter id="gyriL" x="0" y="0" width="100%" height="100%" color-interpolation-filters="sRGB"><feTurbulence type="turbulence" baseFrequency="0.042 0.05" numOctaves="2" seed="7" result="n"/><feColorMatrix in="n" type="matrix" values="0 0 0 0 0  0 0 0 0 0  0 0 0 0 0  3 0 0 0 -0.2" result="h"/><feGaussianBlur in="h" stdDeviation="1" result="hb"/><feDiffuseLighting in="hb" surfaceScale="3.2" diffuseConstant="1.0" lighting-color="#ffffff" result="l"><feDistantLight azimuth="235" elevation="64"/></feDiffuseLighting><feColorMatrix in="l" type="matrix" values="0.38 0 0 0 0.575  0 0.38 0 0 0.575  0 0 0.38 0 0.575  0 0 0 1 0" result="lc"/><feComposite in="lc" in2="SourceGraphic" operator="in" result="c"/><feGaussianBlur in="c" stdDeviation="0.5"/></filter><filter id="gyriR" x="0" y="0" width="100%" height="100%" color-interpolation-filters="sRGB"><feTurbulence type="turbulence" baseFrequency="0.042 0.05" numOctaves="2" seed="11" result="n"/><feColorMatrix in="n" type="matrix" values="0 0 0 0 0  0 0 0 0 0  0 0 0 0 0  3 0 0 0 -0.2" result="h"/><feGaussianBlur in="h" stdDeviation="1" result="hb"/><feDiffuseLighting in="hb" surfaceScale="3.2" diffuseConstant="1.0" lighting-color="#ffffff" result="l"><feDistantLight azimuth="305" elevation="64"/></feDiffuseLighting><feColorMatrix in="l" type="matrix" values="0.38 0 0 0 0.575  0 0.38 0 0 0.575  0 0 0.38 0 0.575  0 0 0 1 0" result="lc"/><feComposite in="lc" in2="SourceGraphic" operator="in" result="c"/><feGaussianBlur in="c" stdDeviation="0.5"/></filter><filter id="edge" x="-10%" y="-10%" width="120%" height="120%"><feGaussianBlur stdDeviation="1.2"/></filter><linearGradient id="fgL" x1="0" y1="0" x2="1" y2="0"><stop offset="0" stop-color="#fff"/><stop offset="0.5" stop-color="#fff"/><stop offset="0.78" stop-color="#999"/><stop offset="1" stop-color="#444"/></linearGradient><linearGradient id="fgR" x1="1" y1="0" x2="0" y2="0"><stop offset="0" stop-color="#fff"/><stop offset="0.5" stop-color="#fff"/><stop offset="0.78" stop-color="#999"/><stop offset="1" stop-color="#444"/></linearGradient><mask id="fadeL" maskUnits="userSpaceOnUse" x="0" y="570" width="220" height="120"><rect x="15" y="570" width="162" height="120" fill="url(#fgL)"/></mask><mask id="fadeR" maskUnits="userSpaceOnUse" x="219" y="570" width="220" height="120"><rect x="261.5" y="570" width="162" height="120" fill="url(#fgR)"/></mask><clipPath id="clipL"><path d="M21.5 632.4 C22.2 627.7 24.2 620.8 26.4 616.0 C28.6 611.2 31.3 607.6 34.6 603.7 C37.9 599.8 42.3 595.7 46.4 592.5 C50.5 589.3 54.7 586.8 59.0 584.5 C63.3 582.2 67.7 580.6 72.0 579.0 C76.3 577.4 79.8 575.9 85.0 574.8 C90.2 573.7 97.5 572.6 103.0 572.6 C108.5 572.6 113.8 573.5 118.0 574.6 C122.2 575.7 124.8 577.3 128.0 579.0 C131.2 580.7 133.4 582.2 137.0 585.0 C140.6 587.8 145.3 591.8 149.4 596.0 C153.5 600.2 158.3 605.3 161.7 610.0 C165.1 614.7 168.2 619.6 170.0 624.0 C171.8 628.4 172.3 632.5 172.5 636.5 C172.7 640.5 171.9 644.6 171.0 648.0 C170.1 651.4 168.8 654.0 167.0 657.0 C165.2 660.0 162.8 663.0 160.0 666.0 C157.2 669.0 153.3 672.3 150.0 675.0 C146.7 677.7 142.8 679.2 140.0 682.0 C137.2 684.8 146.3 690.3 133.0 692.0 C119.7 693.7 73.5 694.0 60.0 692.0 C46.5 690.0 55.0 683.3 52.0 680.0 C49.0 676.7 45.2 674.8 42.0 672.0 C38.8 669.2 35.7 666.3 33.0 663.0 C30.3 659.7 27.8 655.2 26.0 652.0 C24.2 648.8 23.1 647.3 22.3 644.0 C21.6 640.7 20.8 637.1 21.5 632.4Z"/></clipPath><clipPath id="clipR"><path d="M417.0 632.4 C416.3 627.7 414.3 620.8 412.1 616.0 C409.9 611.2 407.2 607.6 403.9 603.7 C400.6 599.8 396.2 595.7 392.1 592.5 C388.0 589.3 383.8 586.8 379.5 584.5 C375.2 582.2 370.8 580.6 366.5 579.0 C362.2 577.4 358.7 575.9 353.5 574.8 C348.3 573.7 341.0 572.6 335.5 572.6 C330.0 572.6 324.7 573.5 320.5 574.6 C316.3 575.7 313.7 577.3 310.5 579.0 C307.3 580.7 305.1 582.2 301.5 585.0 C297.9 587.8 293.2 591.8 289.1 596.0 C285.0 600.2 280.2 605.3 276.8 610.0 C273.4 614.7 270.3 619.6 268.5 624.0 C266.7 628.4 266.2 632.5 266.0 636.5 C265.8 640.5 266.6 644.6 267.5 648.0 C268.4 651.4 269.7 654.0 271.5 657.0 C273.3 660.0 275.7 663.0 278.5 666.0 C281.3 669.0 285.2 672.3 288.5 675.0 C291.8 677.7 295.7 679.2 298.5 682.0 C301.3 684.8 292.2 690.3 305.5 692.0 C318.8 693.7 365.0 694.0 378.5 692.0 C392.0 690.0 383.5 683.3 386.5 680.0 C389.5 676.7 393.3 674.8 396.5 672.0 C399.7 669.2 402.8 666.3 405.5 663.0 C408.2 659.7 410.7 655.2 412.5 652.0 C414.3 648.8 415.4 647.3 416.2 644.0 C416.9 640.7 417.7 637.1 417.0 632.4Z"/></clipPath></defs>
<g mask="url(#fadeL)"><path d="M21.5 632.4 C22.2 627.7 24.2 620.8 26.4 616.0 C28.6 611.2 31.3 607.6 34.6 603.7 C37.9 599.8 42.3 595.7 46.4 592.5 C50.5 589.3 54.7 586.8 59.0 584.5 C63.3 582.2 67.7 580.6 72.0 579.0 C76.3 577.4 79.8 575.9 85.0 574.8 C90.2 573.7 97.5 572.6 103.0 572.6 C108.5 572.6 113.8 573.5 118.0 574.6 C122.2 575.7 124.8 577.3 128.0 579.0 C131.2 580.7 133.4 582.2 137.0 585.0 C140.6 587.8 145.3 591.8 149.4 596.0 C153.5 600.2 158.3 605.3 161.7 610.0 C165.1 614.7 168.2 619.6 170.0 624.0 C171.8 628.4 172.3 632.5 172.5 636.5 C172.7 640.5 171.9 644.6 171.0 648.0 C170.1 651.4 168.8 654.0 167.0 657.0 C165.2 660.0 162.8 663.0 160.0 666.0 C157.2 669.0 153.3 672.3 150.0 675.0 C146.7 677.7 142.8 679.2 140.0 682.0 C137.2 684.8 146.3 690.3 133.0 692.0 C119.7 693.7 73.5 694.0 60.0 692.0 C46.5 690.0 55.0 683.3 52.0 680.0 C49.0 676.7 45.2 674.8 42.0 672.0 C38.8 669.2 35.7 666.3 33.0 663.0 C30.3 659.7 27.8 655.2 26.0 652.0 C24.2 648.8 23.1 647.3 22.3 644.0 C21.6 640.7 20.8 637.1 21.5 632.4Z" fill="#d4d4d4" filter="url(#edge)"/><path d="M21.5 632.4 C22.2 627.7 24.2 620.8 26.4 616.0 C28.6 611.2 31.3 607.6 34.6 603.7 C37.9 599.8 42.3 595.7 46.4 592.5 C50.5 589.3 54.7 586.8 59.0 584.5 C63.3 582.2 67.7 580.6 72.0 579.0 C76.3 577.4 79.8 575.9 85.0 574.8 C90.2 573.7 97.5 572.6 103.0 572.6 C108.5 572.6 113.8 573.5 118.0 574.6 C122.2 575.7 124.8 577.3 128.0 579.0 C131.2 580.7 133.4 582.2 137.0 585.0 C140.6 587.8 145.3 591.8 149.4 596.0 C153.5 600.2 158.3 605.3 161.7 610.0 C165.1 614.7 168.2 619.6 170.0 624.0 C171.8 628.4 172.3 632.5 172.5 636.5 C172.7 640.5 171.9 644.6 171.0 648.0 C170.1 651.4 168.8 654.0 167.0 657.0 C165.2 660.0 162.8 663.0 160.0 666.0 C157.2 669.0 153.3 672.3 150.0 675.0 C146.7 677.7 142.8 679.2 140.0 682.0 C137.2 684.8 146.3 690.3 133.0 692.0 C119.7 693.7 73.5 694.0 60.0 692.0 C46.5 690.0 55.0 683.3 52.0 680.0 C49.0 676.7 45.2 674.8 42.0 672.0 C38.8 669.2 35.7 666.3 33.0 663.0 C30.3 659.7 27.8 655.2 26.0 652.0 C24.2 648.8 23.1 647.3 22.3 644.0 C21.6 640.7 20.8 637.1 21.5 632.4Z" fill="#ddd" filter="url(#gyriL)"/><path d="M60.0 668.0 C61.3 661.7 67.0 659.3 72.0 656.0 C77.0 652.7 83.3 650.3 90.0 648.0 C96.7 645.7 104.5 644.3 112.0 642.0 C119.5 639.7 127.8 636.3 135.0 634.0 C142.2 631.7 149.2 627.0 155.0 628.0 C160.8 629.0 168.0 635.3 170.0 640.0 C172.0 644.7 170.0 651.0 167.0 656.0 C164.0 661.0 157.0 665.7 152.0 670.0 C147.0 674.3 141.0 678.0 137.0 682.0 C133.0 686.0 140.2 692.0 128.0 694.0 C115.8 696.0 75.3 698.3 64.0 694.0 C52.7 689.7 58.7 674.3 60.0 668.0Z" fill="#000" opacity="0.07" filter="url(#b2)" clip-path="url(#clipL)"/><g fill="none" stroke="#b4b4b4" stroke-width="1.5" stroke-linecap="round" filter="url(#b1)" opacity="0.55" clip-path="url(#clipL)"><path d="M60.0 667.0 C61.7 665.0 65.3 658.5 70.0 655.0 C74.7 651.5 81.3 648.5 88.0 646.0 C94.7 643.5 102.7 642.3 110.0 640.0 C117.3 637.7 125.3 635.0 132.0 632.0 C138.7 629.0 147.0 623.7 150.0 622.0"/><path d="M78.0 583.0 C78.7 585.8 81.7 594.2 82.0 600.0 C82.3 605.8 79.3 612.0 80.0 618.0 C80.7 624.0 85.0 633.0 86.0 636.0"/><path d="M62.0 588.0 C62.7 590.7 65.7 598.3 66.0 604.0 C66.3 609.7 63.3 616.0 64.0 622.0 C64.7 628.0 69.0 637.0 70.0 640.0"/><path d="M96.0 582.0 C96.7 584.7 99.8 592.3 100.0 598.0 C100.2 603.7 96.3 610.3 97.0 616.0 C97.7 621.7 102.8 629.3 104.0 632.0"/><path d="M30.0 622.0 C32.3 620.3 39.0 614.0 44.0 612.0 C49.0 610.0 55.3 609.7 60.0 610.0 C64.7 610.3 70.0 613.3 72.0 614.0"/><path d="M28.0 640.0 C30.7 638.7 38.7 633.0 44.0 632.0 C49.3 631.0 55.3 632.0 60.0 634.0 C64.7 636.0 70.0 642.3 72.0 644.0"/><path d="M72.0 672.0 C75.3 670.7 85.0 666.3 92.0 664.0 C99.0 661.7 106.3 660.0 114.0 658.0 C121.7 656.0 131.0 654.3 138.0 652.0 C145.0 649.7 153.0 645.3 156.0 644.0"/><path d="M80.0 680.0 C83.3 679.0 92.7 676.0 100.0 674.0 C107.3 672.0 116.3 670.3 124.0 668.0 C131.7 665.7 142.3 661.3 146.0 660.0"/><path d="M118.0 586.0 C119.3 588.7 122.3 597.7 126.0 602.0 C129.7 606.3 135.7 607.7 140.0 612.0 C144.3 616.3 150.0 625.3 152.0 628.0"/><path d="M134.0 594.0 C136.7 596.0 145.7 601.7 150.0 606.0 C154.3 610.3 158.3 617.7 160.0 620.0"/><path d="M40.0 600.0 C42.3 599.3 49.0 596.3 54.0 596.0 C59.0 595.7 67.3 597.7 70.0 598.0"/></g></g>
<g mask="url(#fadeR)"><path d="M417.0 632.4 C416.3 627.7 414.3 620.8 412.1 616.0 C409.9 611.2 407.2 607.6 403.9 603.7 C400.6 599.8 396.2 595.7 392.1 592.5 C388.0 589.3 383.8 586.8 379.5 584.5 C375.2 582.2 370.8 580.6 366.5 579.0 C362.2 577.4 358.7 575.9 353.5 574.8 C348.3 573.7 341.0 572.6 335.5 572.6 C330.0 572.6 324.7 573.5 320.5 574.6 C316.3 575.7 313.7 577.3 310.5 579.0 C307.3 580.7 305.1 582.2 301.5 585.0 C297.9 587.8 293.2 591.8 289.1 596.0 C285.0 600.2 280.2 605.3 276.8 610.0 C273.4 614.7 270.3 619.6 268.5 624.0 C266.7 628.4 266.2 632.5 266.0 636.5 C265.8 640.5 266.6 644.6 267.5 648.0 C268.4 651.4 269.7 654.0 271.5 657.0 C273.3 660.0 275.7 663.0 278.5 666.0 C281.3 669.0 285.2 672.3 288.5 675.0 C291.8 677.7 295.7 679.2 298.5 682.0 C301.3 684.8 292.2 690.3 305.5 692.0 C318.8 693.7 365.0 694.0 378.5 692.0 C392.0 690.0 383.5 683.3 386.5 680.0 C389.5 676.7 393.3 674.8 396.5 672.0 C399.7 669.2 402.8 666.3 405.5 663.0 C408.2 659.7 410.7 655.2 412.5 652.0 C414.3 648.8 415.4 647.3 416.2 644.0 C416.9 640.7 417.7 637.1 417.0 632.4Z" fill="#d4d4d4" filter="url(#edge)"/><path d="M417.0 632.4 C416.3 627.7 414.3 620.8 412.1 616.0 C409.9 611.2 407.2 607.6 403.9 603.7 C400.6 599.8 396.2 595.7 392.1 592.5 C388.0 589.3 383.8 586.8 379.5 584.5 C375.2 582.2 370.8 580.6 366.5 579.0 C362.2 577.4 358.7 575.9 353.5 574.8 C348.3 573.7 341.0 572.6 335.5 572.6 C330.0 572.6 324.7 573.5 320.5 574.6 C316.3 575.7 313.7 577.3 310.5 579.0 C307.3 580.7 305.1 582.2 301.5 585.0 C297.9 587.8 293.2 591.8 289.1 596.0 C285.0 600.2 280.2 605.3 276.8 610.0 C273.4 614.7 270.3 619.6 268.5 624.0 C266.7 628.4 266.2 632.5 266.0 636.5 C265.8 640.5 266.6 644.6 267.5 648.0 C268.4 651.4 269.7 654.0 271.5 657.0 C273.3 660.0 275.7 663.0 278.5 666.0 C281.3 669.0 285.2 672.3 288.5 675.0 C291.8 677.7 295.7 679.2 298.5 682.0 C301.3 684.8 292.2 690.3 305.5 692.0 C318.8 693.7 365.0 694.0 378.5 692.0 C392.0 690.0 383.5 683.3 386.5 680.0 C389.5 676.7 393.3 674.8 396.5 672.0 C399.7 669.2 402.8 666.3 405.5 663.0 C408.2 659.7 410.7 655.2 412.5 652.0 C414.3 648.8 415.4 647.3 416.2 644.0 C416.9 640.7 417.7 637.1 417.0 632.4Z" fill="#ddd" filter="url(#gyriR)"/><path d="M378.5 668.0 C377.2 661.7 371.5 659.3 366.5 656.0 C361.5 652.7 355.2 650.3 348.5 648.0 C341.8 645.7 334.0 644.3 326.5 642.0 C319.0 639.7 310.7 636.3 303.5 634.0 C296.3 631.7 289.3 627.0 283.5 628.0 C277.7 629.0 270.5 635.3 268.5 640.0 C266.5 644.7 268.5 651.0 271.5 656.0 C274.5 661.0 281.5 665.7 286.5 670.0 C291.5 674.3 297.5 678.0 301.5 682.0 C305.5 686.0 298.3 692.0 310.5 694.0 C322.7 696.0 363.2 698.3 374.5 694.0 C385.8 689.7 379.8 674.3 378.5 668.0Z" fill="#000" opacity="0.07" filter="url(#b2)" clip-path="url(#clipR)"/><g fill="none" stroke="#b4b4b4" stroke-width="1.5" stroke-linecap="round" filter="url(#b1)" opacity="0.55" clip-path="url(#clipR)"><path d="M378.5 667.0 C376.8 665.0 373.2 658.5 368.5 655.0 C363.8 651.5 357.2 648.5 350.5 646.0 C343.8 643.5 335.8 642.3 328.5 640.0 C321.2 637.7 313.2 635.0 306.5 632.0 C299.8 629.0 291.5 623.7 288.5 622.0"/><path d="M360.5 583.0 C359.8 585.8 356.8 594.2 356.5 600.0 C356.2 605.8 359.2 612.0 358.5 618.0 C357.8 624.0 353.5 633.0 352.5 636.0"/><path d="M376.5 588.0 C375.8 590.7 372.8 598.3 372.5 604.0 C372.2 609.7 375.2 616.0 374.5 622.0 C373.8 628.0 369.5 637.0 368.5 640.0"/><path d="M342.5 582.0 C341.8 584.7 338.7 592.3 338.5 598.0 C338.3 603.7 342.2 610.3 341.5 616.0 C340.8 621.7 335.7 629.3 334.5 632.0"/><path d="M408.5 622.0 C406.2 620.3 399.5 614.0 394.5 612.0 C389.5 610.0 383.2 609.7 378.5 610.0 C373.8 610.3 368.5 613.3 366.5 614.0"/><path d="M410.5 640.0 C407.8 638.7 399.8 633.0 394.5 632.0 C389.2 631.0 383.2 632.0 378.5 634.0 C373.8 636.0 368.5 642.3 366.5 644.0"/><path d="M366.5 672.0 C363.2 670.7 353.5 666.3 346.5 664.0 C339.5 661.7 332.2 660.0 324.5 658.0 C316.8 656.0 307.5 654.3 300.5 652.0 C293.5 649.7 285.5 645.3 282.5 644.0"/><path d="M358.5 680.0 C355.2 679.0 345.8 676.0 338.5 674.0 C331.2 672.0 322.2 670.3 314.5 668.0 C306.8 665.7 296.2 661.3 292.5 660.0"/><path d="M320.5 586.0 C319.2 588.7 316.2 597.7 312.5 602.0 C308.8 606.3 302.8 607.7 298.5 612.0 C294.2 616.3 288.5 625.3 286.5 628.0"/><path d="M304.5 594.0 C301.8 596.0 292.8 601.7 288.5 606.0 C284.2 610.3 280.2 617.7 278.5 620.0"/><path d="M398.5 600.0 C396.2 599.3 389.5 596.3 384.5 596.0 C379.5 595.7 371.2 597.7 368.5 598.0"/></g></g>
<circle cx="78.2" cy="590.5" r="4.3" fill="url(#ball)"/>
<circle cx="86.5" cy="599.3" r="4.3" fill="url(#ball)"/>
<circle cx="52.1" cy="607" r="4.3" fill="url(#ballp)"/>
<circle cx="53.9" cy="613.1" r="4.3" fill="url(#ball)"/>
<circle cx="40.1" cy="616.4" r="4.3" fill="url(#ball)"/>
<circle cx="133.1" cy="592" r="4.3" fill="url(#ball)"/>
<circle cx="122.5" cy="603" r="4.3" fill="url(#ballp)"/>
<circle cx="130.6" cy="604.6" r="4.3" fill="url(#ballp)"/>
<circle cx="110" cy="617.1" r="4.3" fill="url(#ball)"/>
<circle cx="155.6" cy="619.6" r="4.3" fill="url(#ballp)"/>
<circle cx="151.4" cy="629.6" r="4.3" fill="url(#ball)"/>
<circle cx="141.4" cy="647.7" r="4.3" fill="url(#ballp)"/>
<circle cx="150.1" cy="650.2" r="4.3" fill="url(#ball)"/>
<circle cx="100.2" cy="636.8" r="4.3" fill="url(#ball)"/>
<circle cx="110.2" cy="646.2" r="4.3" fill="url(#ball)"/>
<circle cx="105.2" cy="663.2" r="4.3" fill="url(#ball)"/>
<circle cx="357.1" cy="590" r="4.3" fill="url(#ball)"/>
<circle cx="350.8" cy="598.8" r="4.3" fill="url(#ball)"/>
<circle cx="384.6" cy="606.3" r="4.3" fill="url(#ballp)"/>
<circle cx="384.6" cy="613.8" r="4.3" fill="url(#ball)"/>
<circle cx="400.4" cy="617.1" r="4.3" fill="url(#ball)"/>
<circle cx="305.5" cy="590" r="4.3" fill="url(#ball)"/>
<circle cx="316.7" cy="599.3" r="4.3" fill="url(#ball)"/>
<circle cx="309.2" cy="607.1" r="4.3" fill="url(#ballp)"/>
<circle cx="329.2" cy="613.6" r="4.3" fill="url(#ball)"/>
<circle cx="286.7" cy="618.1" r="4.3" fill="url(#ballp)"/>
<circle cx="288.7" cy="627.6" r="4.3" fill="url(#ball)"/>
<circle cx="299.2" cy="646.4" r="4.3" fill="url(#ballp)"/>
<circle cx="286.2" cy="650.2" r="4.3" fill="url(#ball)"/>
<circle cx="336.5" cy="637.2" r="4.3" fill="url(#ball)"/>
<circle cx="327.5" cy="645.6" r="4.3" fill="url(#ball)"/>
<circle cx="331" cy="662.7" r="4.3" fill="url(#ball)"/>
<text x="54.6" y="586.2" font-size="7.8" textLength="54.7" lengthAdjust="spacingAndGlyphs" stroke-width="0.08">SuppMotorArea L</text>
<text x="84" y="594.4" font-size="7.8" textLength="36.3" lengthAdjust="spacingAndGlyphs" stroke-width="0.08">Precentral L</text>
<text x="103.8" y="600.2" font-size="7.8" textLength="39.2" lengthAdjust="spacingAndGlyphs" stroke-width="0.08">Parietal Inf L</text>
<text x="140.1" y="592.2" font-size="7.8" textLength="42.1" lengthAdjust="spacingAndGlyphs" stroke-width="0.08">Parietal Sup L</text>
<text x="133.8" y="607" font-size="7.8" textLength="37.6" lengthAdjust="spacingAndGlyphs" stroke-width="0.08">Precuneus L</text>
<text x="89" y="614.6" font-size="7.8" textLength="51" lengthAdjust="spacingAndGlyphs" stroke-width="0.08">SupraMarginal L</text>
<text x="23.8" y="603" font-size="7.8" textLength="52.6" lengthAdjust="spacingAndGlyphs" stroke-width="0.08">Superiorfrontal L</text>
<text x="48.9" y="622" font-size="7.8" textLength="38.1" lengthAdjust="spacingAndGlyphs" stroke-width="0.08">Midfrontal L</text>
<text x="-0.5" y="619.6" font-size="7.8" textLength="40.6" lengthAdjust="spacingAndGlyphs" stroke-width="0.08">Forntal Sup L</text>
<text x="161.4" y="622.4" font-size="7.8" textLength="46.9" lengthAdjust="spacingAndGlyphs" stroke-width="0.08">Occipital Sup L</text>
<text x="157.1" y="632.6" font-size="7.8" textLength="46.2" lengthAdjust="spacingAndGlyphs" stroke-width="0.08">Occipital Mid L</text>
<text x="83.5" y="633.6" font-size="7.8" textLength="47.8" lengthAdjust="spacingAndGlyphs" stroke-width="0.08">Temporal&#160; Sup L</text>
<text x="129.6" y="643.9" font-size="7.8" textLength="28.5" lengthAdjust="spacingAndGlyphs" stroke-width="0.08">Lingual L</text>
<text x="86" y="652.5" font-size="7.8" textLength="48.6" lengthAdjust="spacingAndGlyphs" stroke-width="0.08">Temporal Mid L</text>
<text x="153.9" y="654.9" font-size="7.8" textLength="42.6" lengthAdjust="spacingAndGlyphs" stroke-width="0.08">Occipital Inf L</text>
<text x="87.2" y="672.7" font-size="7.8" textLength="44.1" lengthAdjust="spacingAndGlyphs" stroke-width="0.08">Temporal Inf L</text>
<text x="343.5" y="585.8" font-size="7.8" textLength="56.5" lengthAdjust="spacingAndGlyphs" stroke-width="0.08">SuppMotorArea R</text>
<text x="310.5" y="596" font-size="7.8" textLength="38" lengthAdjust="spacingAndGlyphs" stroke-width="0.08">Parietal Inf R</text>
<text x="336" y="606.3" font-size="7.8" textLength="38" lengthAdjust="spacingAndGlyphs" stroke-width="0.08">Precentral R</text>
<text x="378.4" y="602.6" font-size="7.8" textLength="54" lengthAdjust="spacingAndGlyphs" stroke-width="0.08">Superiorfrontal R</text>
<text x="403.4" y="617.6" font-size="7.8" textLength="41" lengthAdjust="spacingAndGlyphs" stroke-width="0.08">Forntal Sup R</text>
<text x="363.6" y="623" font-size="7.8" textLength="38.6" lengthAdjust="spacingAndGlyphs" stroke-width="0.08">Midfrontal R</text>
<text x="307.2" y="621.4" font-size="7.8" textLength="46.1" lengthAdjust="spacingAndGlyphs" stroke-width="0.08">SupraMarginal</text>
<text x="339.5" y="639.7" font-size="7.8" textLength="48.5" lengthAdjust="spacingAndGlyphs" stroke-width="0.08">Temporal Sup R</text>
<text x="306.7" y="652.7" font-size="7.8" textLength="49.3" lengthAdjust="spacingAndGlyphs" stroke-width="0.08">Temporal Mid R</text>
<text x="311.2" y="673.2" font-size="7.8" textLength="45.4" lengthAdjust="spacingAndGlyphs" stroke-width="0.08">Temporal Inf R</text>
<text x="287.9" y="584.5" font-size="7.8" textLength="44" lengthAdjust="spacingAndGlyphs" stroke-width="0.08">Parietal Sup R</text>
<text x="267.9" y="610" font-size="7.8" textLength="38.3" lengthAdjust="spacingAndGlyphs" stroke-width="0.08">Precuneus R</text>
<text x="236.5" y="620.9" font-size="7.8" textLength="48.2" lengthAdjust="spacingAndGlyphs" stroke-width="0.08">Occipital Sup R</text>
<text x="236.5" y="630.6" font-size="7.8" textLength="48.9" lengthAdjust="spacingAndGlyphs" stroke-width="0.08">Occipital Mid R</text>
<text x="287.2" y="643.2" font-size="7.8" textLength="28.3" lengthAdjust="spacingAndGlyphs" stroke-width="0.08">Lingual R</text>
<text x="241" y="658.5" font-size="7.8" textLength="45.2" lengthAdjust="spacingAndGlyphs" stroke-width="0.08">Occipital Inf R</text>
</svg></body></html>
